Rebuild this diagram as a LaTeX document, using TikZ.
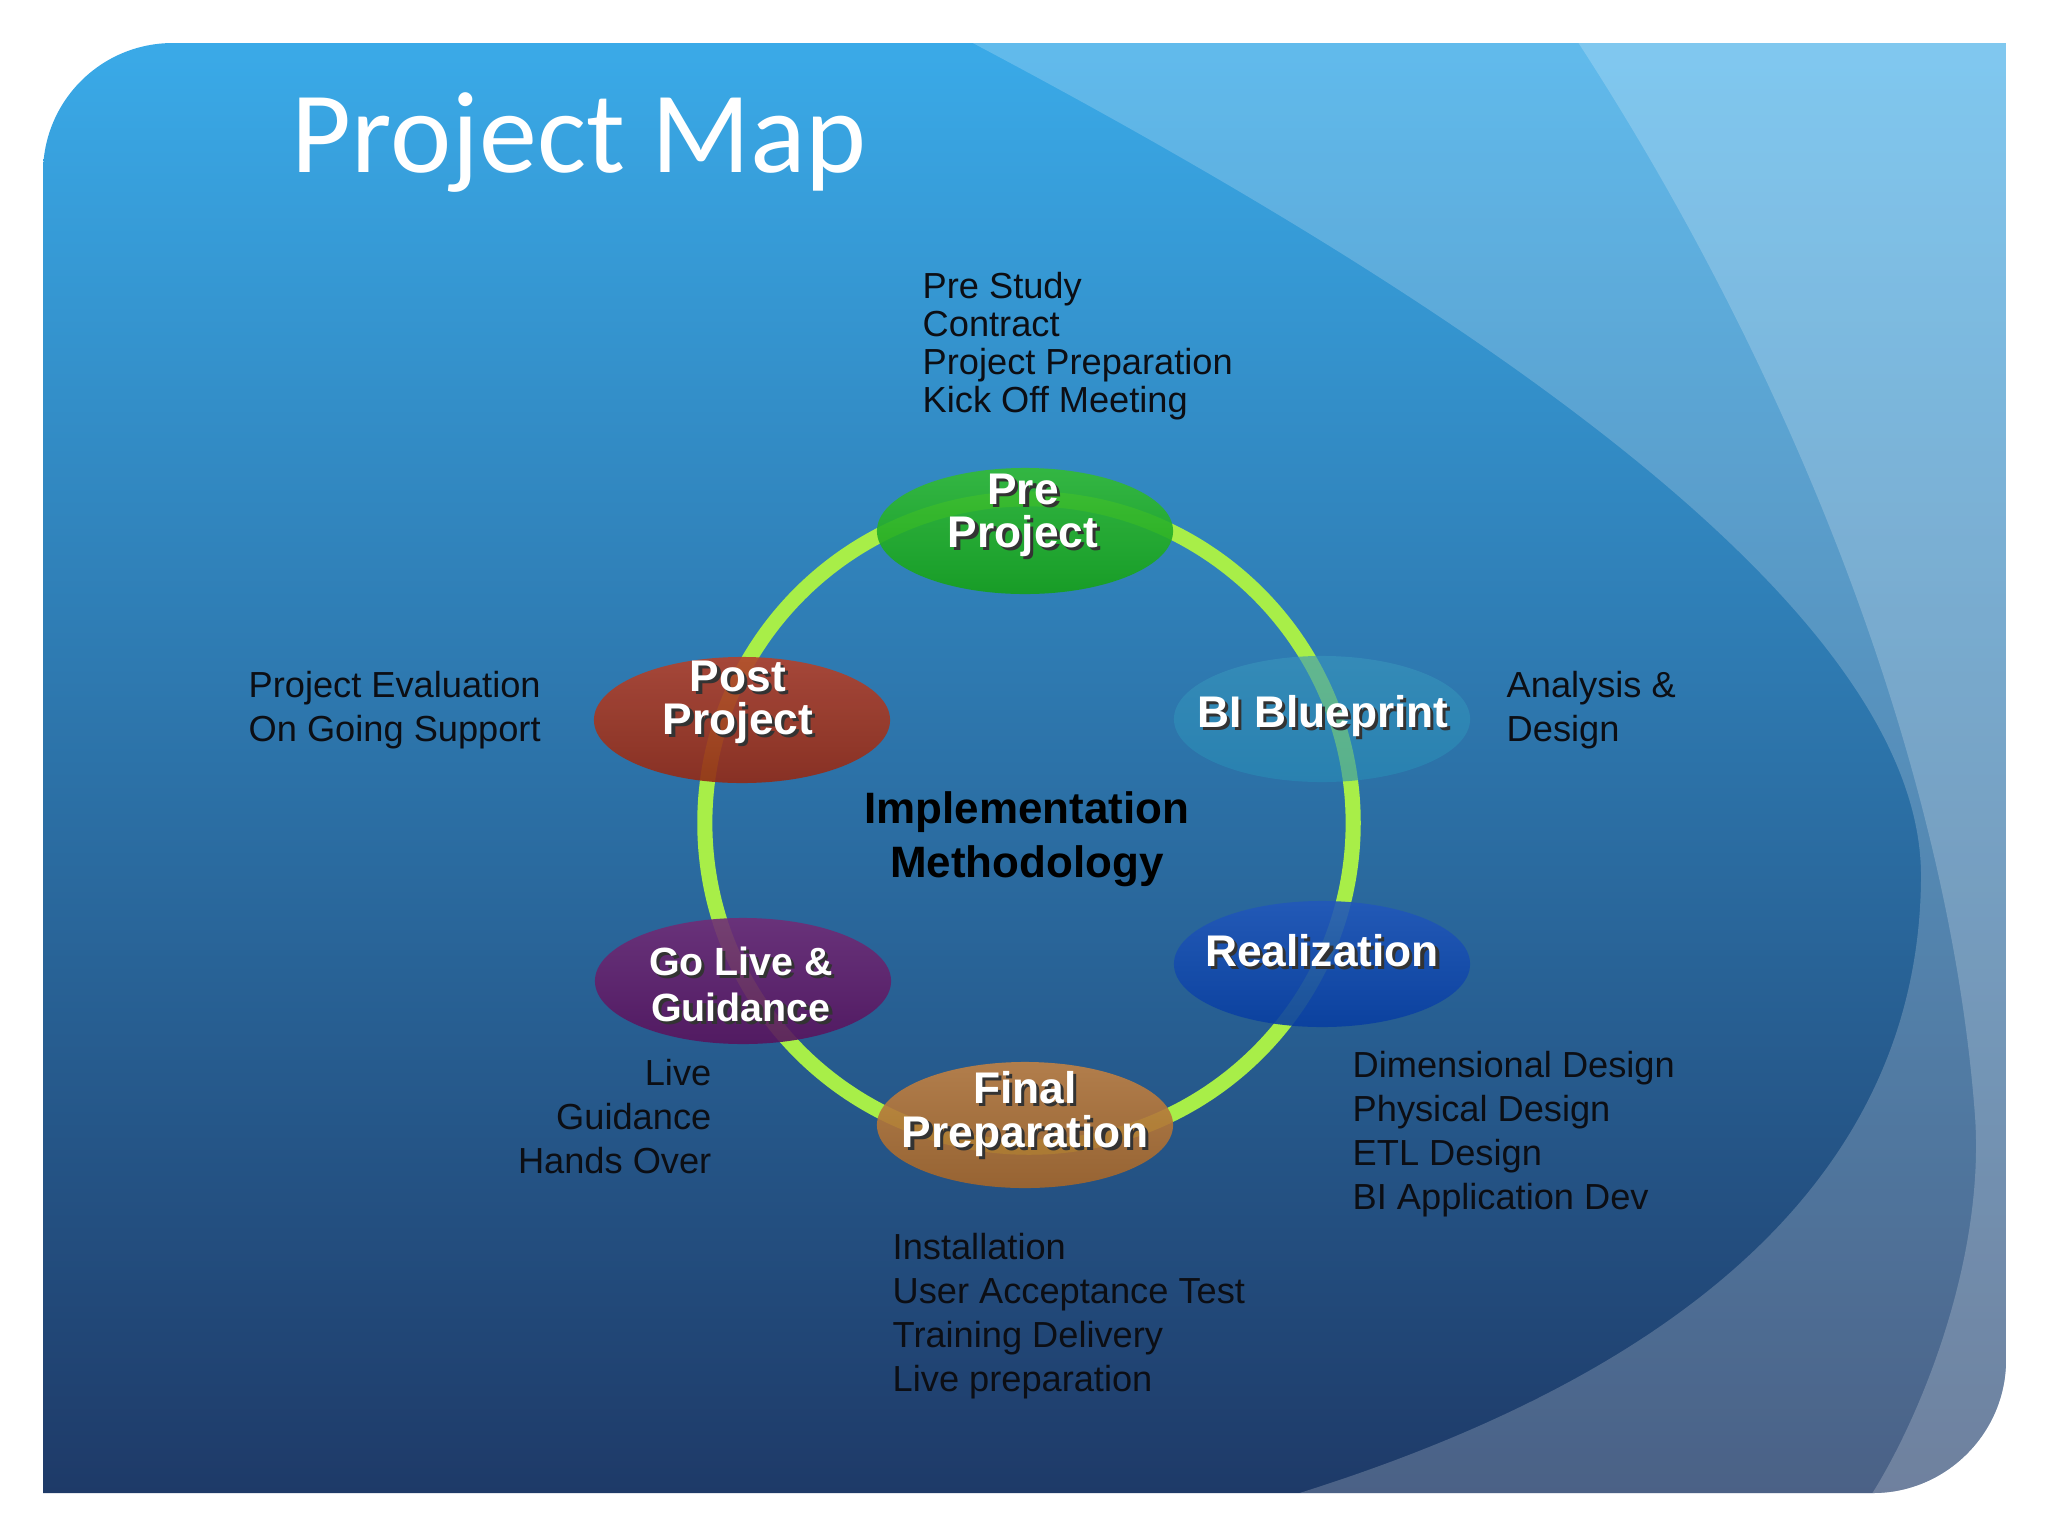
\documentclass[tikz,border=0pt]{standalone}
\usepackage{fontspec}
\setmainfont{Liberation Sans}
\newfontfamily\titlefont{Carlito}
\usetikzlibrary{shapes.geometric}

\definecolor{bgtop}{RGB}{58,170,232}
\definecolor{bgbottom}{RGB}{30,58,104}
\definecolor{ringgreen}{RGB}{168,238,72}
\definecolor{notecolor}{RGB}{12,14,20}
\definecolor{pregreen}{RGB}{24,178,26}
\definecolor{blueprintteal}{RGB}{40,140,182}
\definecolor{realblue}{RGB}{10,70,178}
\definecolor{finalorange}{RGB}{186,116,48}
\definecolor{golivepurple}{RGB}{96,22,104}
\definecolor{postred}{RGB}{172,50,26}

% white label text with a dark drop shadow
\newcommand{\dropshadow}[1]{\leavevmode\rlap{\hspace{0.9pt}\raisebox{-0.9pt}{\color{black!80}#1}}#1}

\tikzset{
  swoosh/.style={white, opacity=.2},
  ring/.style={circle, draw=ringgreen, line width=4.3pt, minimum size=6.48cm, inner sep=0pt},
  stage/.style={ellipse, minimum width=2.96cm, minimum height=1.26cm, inner sep=0pt, fill opacity=.9},
  stagetext/.style={text=white, font=\bfseries\fontsize{12.6}{12.3}\selectfont, align=center, inner sep=0pt, anchor=north},
  centertext/.style={text=black, font=\bfseries\fontsize{12.5}{15.3}\selectfont, align=center, inner sep=0pt, anchor=north},
  note/.style={text=notecolor, font=\fontsize{10.3}{12.5}\selectfont, align=left, inner sep=0pt, anchor=north west},
  title/.style={text=white, font=\titlefont\fontsize{33}{36}\selectfont, inner sep=0pt, anchor=base west}
}

\begin{document}
\begin{tikzpicture}[x=0.01cm, y=-0.01cm]
\useasboundingbox (0,0) rectangle (2048,1536);

% slide background
\begin{scope}
\clip (43,1493) -- (43,173) .. controls (43,101) and (101,43) .. (173,43) -- (2006,43) -- (2006,1360) .. controls (2006,1433) and (1946,1493) .. (1873,1493) -- cycle;
\shade[top color=bgtop, bottom color=bgbottom] (43,43) rectangle (2006,1493);
\fill[swoosh] (950,31) .. controls (1500,320) and (1925,620) .. (1921,880) .. controls (1918,1150) and (1720,1370) .. (1260,1505) -- (2100,1600) -- (2100,-10) -- (950,-10) -- cycle;
\fill[swoosh] (1570,30) .. controls (1800,380) and (1950,780) .. (1975,1116) .. controls (1985,1260) and (1920,1420) .. (1868,1500) -- (2100,1600) -- (2100,-10) -- (1570,-10) -- cycle;
\end{scope}

\node[title] (title) at (291,172) {Project Map};

% cycle
\node[ring] (wheel) at (1029,823) {};

\node[stage, top color=pregreen!88!white, bottom color=pregreen!90!black] (pre) at (1025,531) {};
\node[stage, top color=blueprintteal!92!white, bottom color=blueprintteal, fill opacity=.62] (blueprint) at (1322,719) {};
\node[stage, top color=realblue!90!white, bottom color=realblue!90!black] (real) at (1322,964) {};
\node[stage, top color=finalorange!90!white, bottom color=finalorange!88!black] (final) at (1025,1125) {};
\node[stage, top color=golivepurple!90!white, bottom color=golivepurple!90!black] (golive) at (743,981) {};
\node[stage, top color=postred!92!white, bottom color=postred!85!black] (post) at (742,720) {};

\node[stagetext] (pre-text) at (1023,473) {\dropshadow{Pre}\\\dropshadow{Project}};
\node[stagetext] (blueprint-text) at (1323,695) {\dropshadow{BI Blueprint}};
\node[stagetext] (real-text) at (1322,934) {\dropshadow{Realization}};
\node[stagetext] (final-text) at (1025,1071) {\dropshadow{Final}\\\dropshadow{Preparation}};
\node[stagetext, font=\bfseries\fontsize{11.2}{13.1}\selectfont] (golive-text) at (741,946) {\dropshadow{Go Live \&}\\\dropshadow{Guidance}};
\node[stagetext] (post-text) at (738,660) {\dropshadow{Post}\\\dropshadow{Project}};

\node[centertext] (method) at (1027,791) {Implementation\\Methodology};

% activities of each phase
\node[note, font=\fontsize{10.3}{10.8}\selectfont] (pre-notes) at (922,272) {Pre Study\\Contract\\Project Preparation\\Kick Off Meeting};
\node[note] (blueprint-notes) at (1506,671) {Analysis \&\\Design};
\node[note] (real-notes) at (1352,1051) {Dimensional Design\\Physical Design\\ETL Design\\BI Application Dev};
\node[note] (final-notes) at (892,1233) {Installation\\User Acceptance Test\\Training Delivery\\Live preparation};
\node[note, anchor=north east, align=right] (golive-notes) at (712,1059) {Live\\Guidance\\Hands Over};
\node[note] (post-notes) at (248,671) {Project Evaluation\\On Going Support};
\end{tikzpicture}
\end{document}
